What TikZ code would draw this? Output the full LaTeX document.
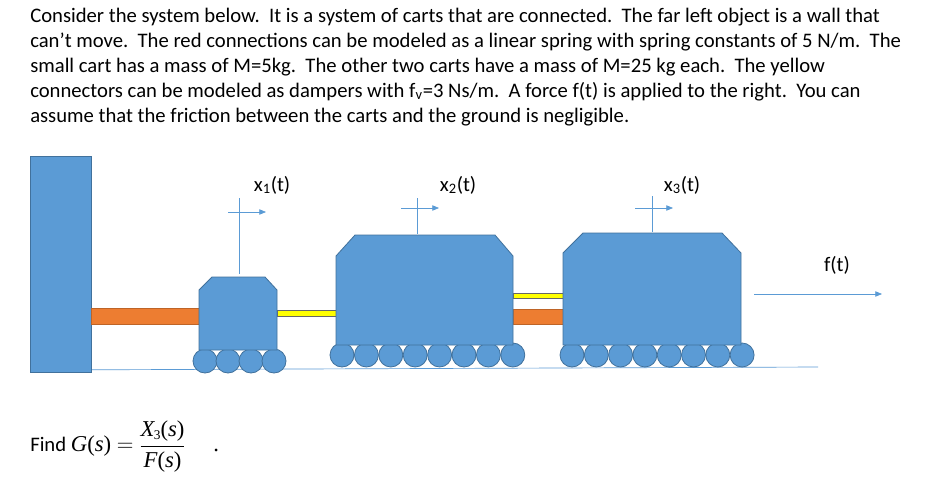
\documentclass[tikz,border=0pt]{standalone}
\usepackage{fontspec}
\setmainfont{Carlito}
\newfontfamily\tms{Liberation Serif}
\usetikzlibrary{arrows.meta}
\definecolor{cb}{HTML}{5B9BD5}
\definecolor{ce}{HTML}{41719C}
\definecolor{co}{HTML}{ED7D31}
\definecolor{cy}{HTML}{FFFF00}
\tikzset{
 body/.style={fill=cb,draw=ce,line width=0.6pt},
 wheel/.style={circle,fill=cb,draw=ce,line width=0.6pt,minimum size=18pt,inner sep=0pt},
 springbar/.style={fill=co,draw=co!80!black,line width=0.4pt},
 damperbar/.style={fill=cy,draw=black!60,line width=0.4pt},
 ref/.style={draw=cb,line width=0.5pt},
 refarr/.style={draw=cb,line width=0.5pt,-{Triangle[length=5pt,width=4pt]}},
 txt/.style={font=\fontsize{15.5}{18}\selectfont,inner sep=0pt},
 lab/.style={font=\fontsize{15.5}{18}\selectfont,inner sep=0pt,anchor=base}
}
\begin{document}
\begin{tikzpicture}[x=0.75pt,y=-0.75pt]
\useasboundingbox (0,0) rectangle (938,496);
\fill[white] (0,0) rectangle (938,496);
% text
\foreach \t [count=\i from 0] in {
 {Consider the system below.\ \ It is a system of carts that are connected.\ \ The far left object is a wall that},
 {can’t move.\ \ The red connections can be modeled as a linear spring with spring constants of 5 N/m.\ \ The},
 {small cart has a mass of M=5kg.\ \ The other two carts have a mass of M=25 kg each.\ \ The yellow},
 {connectors can be modeled as dampers with f\textsubscript{v}=3 Ns/m.\ \ A force f(t) is applied to the right.\ \ You can},
 {assume that the friction between the carts and the ground is negligible.}}
 \node[txt,anchor=base west] (l\i) at (30,{22+25*\i}) {\t};
% ground
\draw[ref] (42,370) -- (818,367);
% wall
\draw[body] (30,156) rectangle (91,372);
% springs/dampers
\draw[springbar] (91,308) rectangle (200,324);
\draw[damperbar] (277,310) rectangle (336,316);
\draw[damperbar] (513,293) rectangle (563,298);
\draw[springbar] (513,309) rectangle (563,324);
% wheels
\foreach \x in {205,228,251,274} \node[wheel] at (\x,361) {};
\foreach \k in {0,...,7} \node[wheel] at ({342+24.4*\k},355) {};
\foreach \k in {0,...,7} \node[wheel] at ({572+24.3*\k},355) {};
% carts
\draw[body] (199,350) -- (199,290) -- (212,277) -- (265,277) -- (277,290) -- (277,350) -- cycle;
\draw[body] (336,345) -- (336,256) -- (355,235) -- (495,235) -- (513,256) -- (513,345) -- cycle;
\draw[body] (563,345) -- (563,253) -- (583,233) -- (722,233) -- (741,253) -- (741,345) -- cycle;
% references
\draw[ref] (239,198) -- (239,274);
\draw[refarr] (228,212) -- (266,212);
\node[lab] (x1) at (272,191) {x\textsubscript{1}(t)};
\draw[ref] (417,198) -- (417,234);
\draw[refarr] (401,208) -- (439,208);
\node[lab] (x2) at (458,191) {x\textsubscript{2}(t)};
\draw[ref] (652,196) -- (652,232);
\draw[refarr] (635,208) -- (673,208);
\node[lab] (x3) at (682,191) {x\textsubscript{3}(t)};
\node[lab] (ft) at (837,271) {f(t)};
\draw[refarr] (754,294) -- (882,294);
% find
\node[txt,anchor=base west] (find) at (30,451) {Find \tms\fontsize{17}{20}\selectfont\itshape G\upshape(\itshape s\upshape) $=$ \raisebox{-0.1ex}{$\displaystyle\frac{\hbox{\tms\fontsize{17}{20}\selectfont\itshape X\kern-0.5pt{\fontsize{10}{10}\selectfont\upshape\raisebox{-0.5ex}{3}}\upshape(\itshape s\upshape)}}{\hbox{\tms\fontsize{17}{20}\selectfont\itshape F\upshape(\itshape s\upshape)}}$}\hspace{1.2em}.};
\end{tikzpicture}
\end{document}
